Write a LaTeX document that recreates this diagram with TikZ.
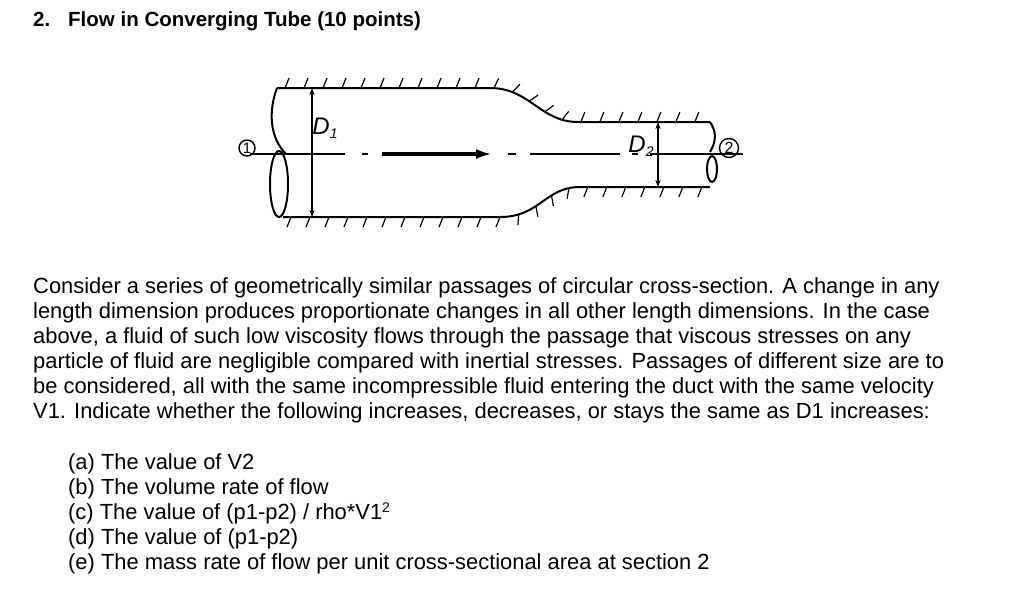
\documentclass[tikz,border=0pt]{standalone}
\usepackage{fontspec}
\setmainfont{Liberation Sans}
\usetikzlibrary{decorations.markings,arrows.meta}
\begin{document}
\begin{tikzpicture}[x=1pt,y=-1pt,
  wall/.style={line width=2pt},
  thin/.style={line width=1.4pt},
  txt/.style={anchor=base west,inner sep=0pt,font=\fontsize{21.9}{25}\selectfont},
  hatchup/.style={postaction={decorate,decoration={markings,mark=between positions 8pt and -4pt step 19pt with {\draw[line width=1.2pt] (0,0) -- (4pt,10pt);}}}},
  hatchdn/.style={postaction={decorate,decoration={markings,mark=between positions 8pt and -4pt step 19pt with {\draw[line width=1.2pt] (0,0) -- (-4pt,-10pt);}}}}]
\useasboundingbox (0,0) rectangle (1024,589);
% title
\node[txt,font=\bfseries\fontsize{20.5}{24}\selectfont] (n2) at (33,27) {2.};
\node[txt,font=\bfseries\fontsize{20.5}{24}\selectfont] (title) at (68,27) {Flow in Converging Tube (10 points)};
% tube
\draw[wall,hatchup] (277,88) -- (490,88) .. controls (530,88) and (540,122) .. (578,122) -- (710,122);
\draw[wall,hatchdn] (283,217) -- (500,217) .. controls (540,217) and (545,187) .. (580,187) -- (710,187);
\draw[wall] (277,88) .. controls (268,112) and (270,138) .. (286,154);
\draw[wall] (279,184) ellipse [x radius=9, y radius=33];
\draw[wall] (710,122) .. controls (717,132) and (716,142) .. (710,152);
\draw[wall] (712,169) ellipse [x radius=5, y radius=13];
% axis
\draw[thin] (250,154) -- (345,154);
\draw[thin] (362,154) -- (368,154);
\coordinate (a1) at (382,154); \coordinate (a2) at (492,154);
\draw[line width=3.6pt,-{Latex[length=16pt,width=10pt]}] (a1) -- (a2);
\draw[thin] (508,154) -- (516,154);
\draw[thin] (530,154) -- (620,154);
\draw[thin] (632,154) -- (638,154);
\draw[thin] (650,154) -- (743,154);
% D1, D2
\coordinate (d1t) at (312,88); \coordinate (d1b) at (312,217);
\draw[thin,{Stealth[length=7pt]}-{Stealth[length=7pt]}] (d1t) -- (d1b);
\node[font=\itshape\fontsize{24}{26}\selectfont] (D1) at (325,128) {D\raisebox{-4pt}{\fontsize{14}{14}\selectfont 1}};
\coordinate (d2t) at (658,122); \coordinate (d2b) at (658,187);
\draw[thin,{Stealth[length=7pt]}-{Stealth[length=7pt]}] (d2t) -- (d2b);
\node[font=\itshape\fontsize{24}{26}\selectfont] (D2) at (641,146) {D\raisebox{-4pt}{\fontsize{14}{14}\selectfont 2}};
% section labels
\node[draw,circle,thin,inner sep=0.5pt,minimum size=16pt,font=\fontsize{15}{15}\selectfont] (s1) at (247,148) {1};
\node[draw,circle,thin,inner sep=0.5pt,minimum size=19pt,font=\fontsize{16}{16}\selectfont] (s2) at (729,148) {2};
% text
\node[txt] (l1) at (33,293) {Consider a series of geometrically similar passages of circular cross-section. A change in any};
\node[txt] (l2) at (33,318) {length dimension produces proportionate changes in all other length dimensions. In the case};
\node[txt] (l3) at (33,343) {above, a fluid of such low viscosity flows through the passage that viscous stresses on any};
\node[txt] (l4) at (33,368) {particle of fluid are negligible compared with inertial stresses. Passages of different size are to};
\node[txt] (l5) at (33,393) {be considered, all with the same incompressible fluid entering the duct with the same velocity};
\node[txt] (l6) at (33,418) {V1. Indicate whether the following increases, decreases, or stays the same as D1 increases:};
\node[txt] (i1) at (68,469) {(a) The value of V2};
\node[txt] (i2) at (68,494) {(b) The volume rate of flow};
\node[txt] (i3) at (68,519) {(c) The value of (p1-p2) / rho*V1\raisebox{7pt}{\fontsize{14}{14}\selectfont 2}};
\node[txt] (i4) at (68,544) {(d) The value of (p1-p2)};
\node[txt] (i5) at (68,569) {(e) The mass rate of flow per unit cross-sectional area at section 2};
\end{tikzpicture}
\end{document}
